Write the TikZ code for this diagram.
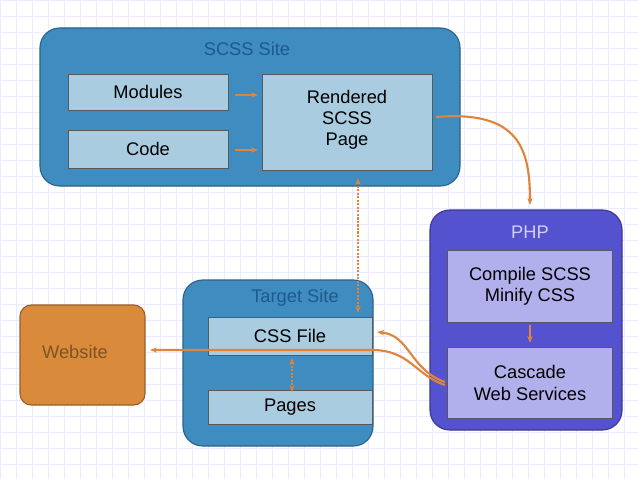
\documentclass[tikz,border=0pt]{standalone}
\usepackage{fontspec}
\setmainfont{Liberation Sans}
\usetikzlibrary{arrows.meta}
\definecolor{siteblue}{HTML}{3F8CC0}
\definecolor{boxblue}{HTML}{A9CCE0}
\definecolor{titleblue}{HTML}{1F5A8C}
\definecolor{phpblue}{HTML}{5552CF}
\definecolor{phpbox}{HTML}{B2B0EC}
\definecolor{flow}{HTML}{E0843A}
\definecolor{web}{HTML}{D98A3A}
\tikzset{
  group/.style={draw=#1!70!black,fill=#1,rounded corners=14pt,line width=0.8pt},
  item/.style={draw=gray!70!black,fill=#1,line width=0.5pt},
  lbl/.style={font=\fontsize{13}{15}\selectfont,align=center},
  link/.style={draw=flow,line width=1.5pt,-{Stealth[length=5pt]}},
  both/.style={link,densely dotted,{Stealth[length=5pt]}-{Stealth[length=5pt]}}
}
\begin{document}
\begin{tikzpicture}[x=0.025cm,y=-0.025cm]
\useasboundingbox[fill=white] (0,0) rectangle (638,479);
%% grid
\foreach \g in {0,16,...,638} \draw[blue!8] (\g,0) -- (\g,479);
\foreach \g in {0,16,...,479} \draw[blue!8] (0,\g) -- (638,\g);
%% groups
\draw[group=siteblue] (40,28) rectangle (460,186);
\node[lbl,text=titleblue] (scss) at (247,49) {SCSS Site};
\draw[group=phpblue] (430,210) rectangle (622,430);
\node[lbl,text=phpbox!60!white] (php) at (530,232) {PHP};
\draw[group=siteblue] (183,280) rectangle (373,446);
\node[lbl,text=titleblue] (target) at (295,298) {Target Site};
\draw[group=web,rounded corners=8pt] (20,305) rectangle (145,405);
\node[lbl,text=web!60!black] (web) at (75,352) {Website};
%% boxes
\draw[item=boxblue] (68,74) rectangle (228,110);
\node[lbl] (modules) at (148,92) {Modules};
\draw[item=boxblue] (68,130) rectangle (228,168);
\node[lbl] (code) at (148,149) {Code};
\draw[item=boxblue] (262,74) rectangle (432,170);
\node[lbl] (page) at (347,120) {Rendered\\SCSS\\Page};
\draw[item=phpbox] (447,250) rectangle (612,322);
\node[lbl] (compile) at (530,286) {Compile SCSS\\Minify CSS};
\draw[item=phpbox] (447,347) rectangle (612,418);
\node[lbl] (cascade) at (530,383) {Cascade\\Web Services};
\draw[item=boxblue] (208,317) rectangle (372,355);
\node[lbl] (css) at (290,336) {CSS File};
\draw[item=boxblue] (208,390) rectangle (372,424);
\node[lbl] (pages) at (290,407) {Pages};
%% connectors
\draw[link] (235,95) -- (258,95);
\draw[link] (235,150) -- (258,150);
\draw[link] (436,117) .. controls (520,110) and (530,150) .. (530,205);
\draw[link] (530,325) -- (530,343);
\draw[both] (358,178) -- (358,313);
\draw[both] (292,358) -- (292,392);
\draw[link] (445,382) .. controls (410,370) and (410,335) .. (377,332);
\draw[link] (445,385) .. controls (415,375) and (410,350) .. (372,350) -- (150,350);
\end{tikzpicture}
\end{document}
